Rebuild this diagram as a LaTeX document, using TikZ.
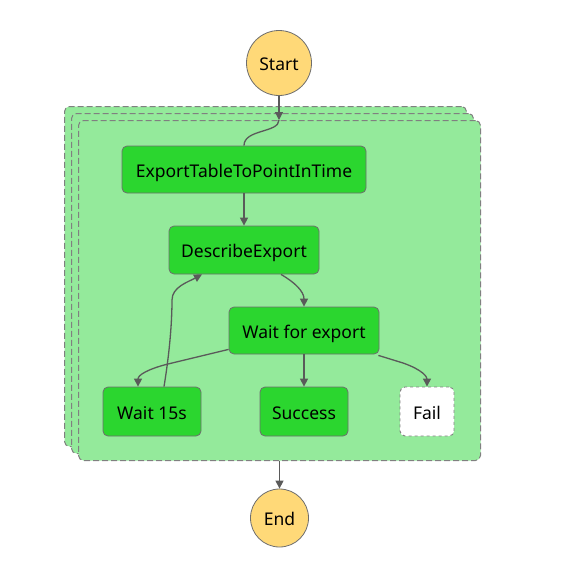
\documentclass[tikz,border=0pt]{standalone}
\usepackage{fontspec}
\setmainfont{Noto Sans}
\usetikzlibrary{arrows.meta,calc}
\definecolor{nodegreen}{RGB}{43,214,47}
\definecolor{contgreen}{RGB}{148,234,155}
\definecolor{startyel}{RGB}{255,217,120}
\definecolor{edgegray}{RGB}{90,90,90}
\definecolor{bordgray}{RGB}{110,110,110}
\definecolor{dashgray}{RGB}{128,128,128}
\begin{document}
\begin{tikzpicture}[x=1pt,y=-1pt,
  every node/.style={font=\fontsize{17.5}{20}\selectfont, text=black, inner sep=0pt, text height=15pt, text depth=0pt},
  task/.style={draw=bordgray, line width=0.8pt, fill=nodegreen, rounded corners=5pt},
  failbox/.style={draw=dashgray, dashed, line width=0.9pt, fill=white, rounded corners=5pt},
  term/.style={circle, draw=bordgray, line width=0.8pt, fill=startyel},
  cont/.style={draw=dashgray, dash pattern=on 6pt off 3pt, line width=1pt, fill=contgreen, rounded corners=5pt, minimum width=402pt, minimum height=340pt},
  conn/.style={draw=edgegray, line width=1.3pt, -{Triangle[length=8pt,width=8pt]}},
  link/.style={draw=edgegray, line width=1.3pt}]
\useasboundingbox (0,0) rectangle (571,573);
% stacked containers
\node[cont] (cont1) at (265.5,276.5) {};
\node[cont] (cont2) at (272.5,283.5) {};
\node[cont] (cont3) at (279.5,290.5) {};
% terminals
\node[term, minimum size=65pt] (start) at (279,63) {Start};
\node[term, minimum size=58pt] (end) at (279.5,518) {End};
% tasks
\node[task, minimum width=244pt, minimum height=47pt] (export) at (244,169.5) {ExportTableToPointInTime};
\node[task, minimum width=150pt, minimum height=48pt] (describe) at (244,250) {DescribeExport};
\node[task, minimum width=150pt, minimum height=47pt] (waitexp) at (304,330.5) {Wait for export};
\node[task, minimum width=98pt, minimum height=49pt] (wait15) at (152,411.5) {Wait 15s};
\node[task, minimum width=88pt, minimum height=49pt] (success) at (304,411.5) {Success};
\node[failbox, minimum width=54pt, minimum height=49pt] (fail) at (427,411.5) {Fail};
% connectors
\coordinate (c1) at (279,120);
\draw[conn] (start.south) -- (c1);
\draw[link] (c1) .. controls (279,133) and (244,129) .. (export.north);
\draw[conn] (export.south) -- (describe.north);
\draw[conn] ($(describe.south)+(37,0)$) .. controls (294,282) and (304,291) .. (waitexp.north);
\draw[conn] ($(waitexp.south west)+(0,-5)$) -- (168,364) .. controls (148,369) and (138,375) .. ($(wait15.north)+(-14,0)$);
\draw[conn] ($(wait15.north)+(12,0)$) .. controls (170,350) and (172,320) .. (172,300) .. controls (172,287) and (188,282) .. ($(describe.south)+(-42,0)$);
\draw[conn] (waitexp.south) -- (success.north);
\draw[conn] ($(waitexp.south east)+(-1,1)$) -- (403,363) .. controls (423,370) and (427,377) .. (fail.north);
\draw[conn] (cont3.south) -- (end.north);
\end{tikzpicture}
\end{document}
